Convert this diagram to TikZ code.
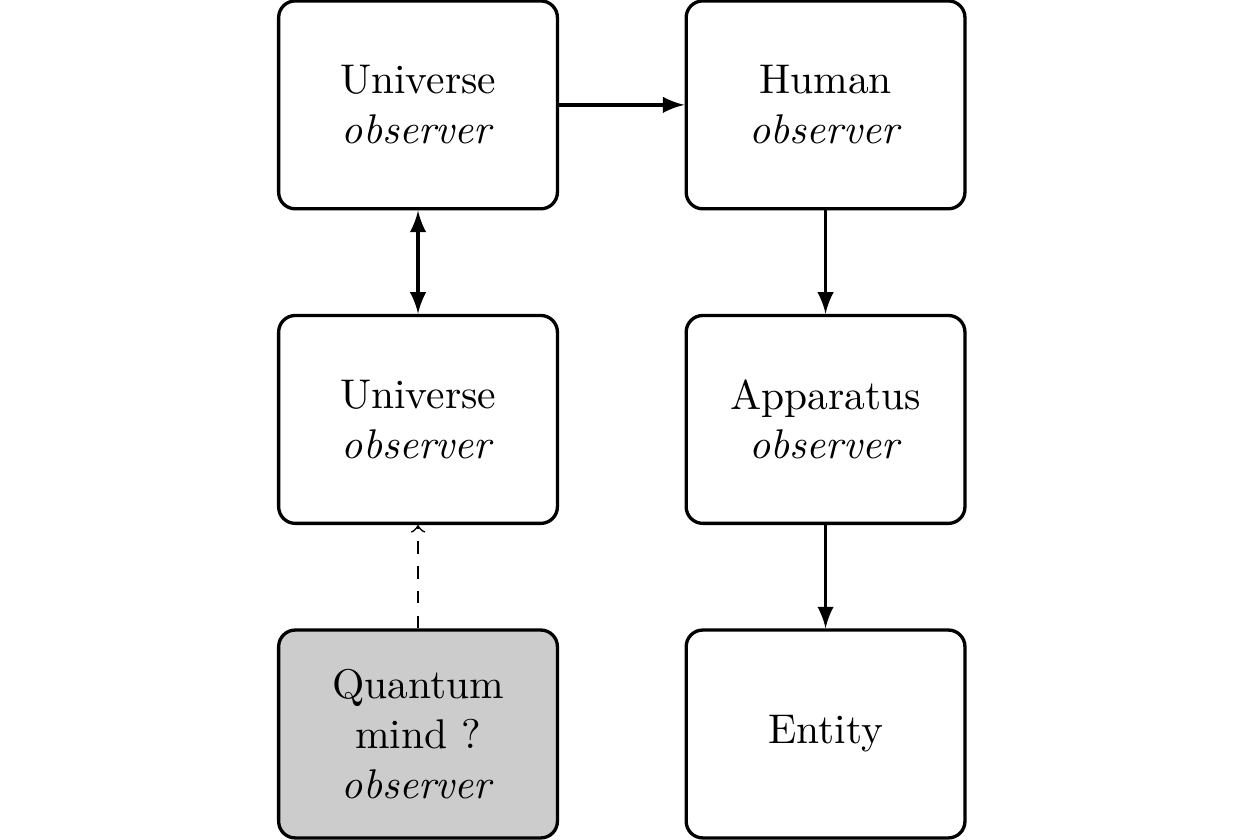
\documentclass[tikz,border=0pt]{standalone}
\tikzset{>=latex}
\usetikzlibrary{positioning}
\tikzset{obsbox/.style={draw, thick, rectangle, rounded corners, align=center, minimum width=2.36cm, minimum height=1.76cm}}
\begin{document}
\begin{tikzpicture}
      \useasboundingbox (0,0) rectangle (10.54,7.11);
      \node[obsbox] (uni1) at (3.539,6.222) {Universe\\\textit{observer}};
      \node[obsbox, right of=uni1, node distance=3.45cm] (hum) {Human\\\textit{observer}};
      \node[obsbox, below of=uni1, node distance=2.663cm] (uni2) {Universe\\\textit{observer}};
      \node[obsbox, below of=hum, node distance=2.663cm] (app) {Apparatus\\\textit{observer}};
      \node[obsbox, below of=uni2, node distance=2.663cm, fill=gray!40] (qm) {Quantum\\mind ?\\\textit{observer}};
      \node[obsbox, below of=app, node distance=2.663cm] (ent) {Entity};
      \draw[->, thick] (uni1) to (hum);
      \draw[<->, thick] (uni1) to (uni2);
      \draw[->, thick] (hum) to (app);
      \draw[->, thick] (app) to (ent);
      \draw[-to, dashed] (qm) to (uni2);
    \end{tikzpicture}
\end{document}
